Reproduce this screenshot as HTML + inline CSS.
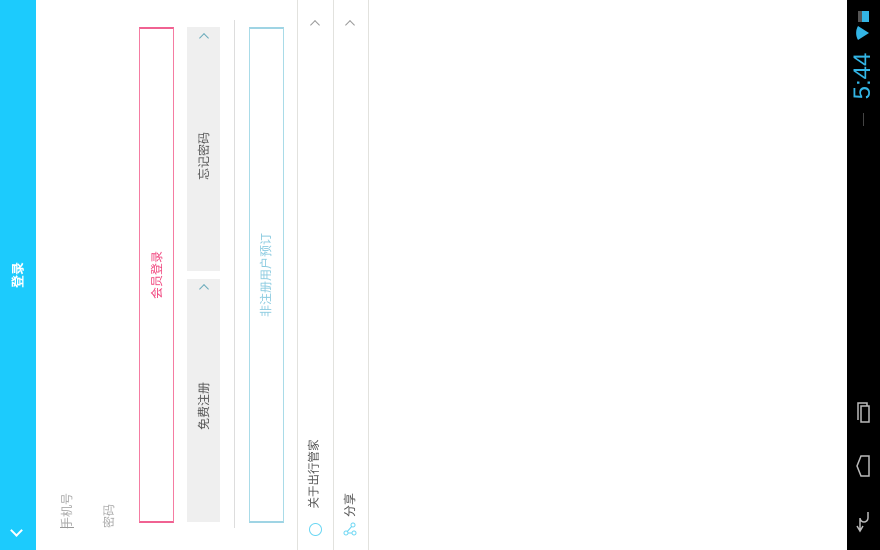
<!DOCTYPE html>
<html><head><meta charset="utf-8"><style>
*{margin:0;padding:0;box-sizing:border-box}
body{width:880px;height:550px;overflow:hidden;background:#fff;position:relative;font-family:"Liberation Sans","Noto Sans CJK SC",sans-serif}
div{position:absolute}
.t{white-space:nowrap;transform:translate(-50%,-50%) rotate(-90deg);line-height:1}
.chev{width:7px;height:7px;border-left:1.5px solid #999;border-top:1.5px solid #999;transform:translate(-50%,-50%) rotate(45deg)}
</style></head><body>
<div style="left:0;top:0;width:36px;height:550px;background:#1ccbfd"></div>
<div class="t" style="left:18px;top:275px;color:#fff;font-size:13px;font-weight:bold">登录</div>
<div style="left:12px;top:526px;width:9px;height:9px;border-right:2px solid #fff;border-bottom:2px solid #fff;transform:rotate(45deg)"></div>

<div class="t" style="left:67px;top:511px;color:#aaa;font-size:12px">手机号</div>
<div style="left:60px;top:527px;width:14px;height:1px;background:#999"></div>
<div class="t" style="left:109px;top:516px;color:#aaa;font-size:12px">密码</div>

<div style="left:139px;top:27px;width:35px;height:496px;border:1px solid #f57ca2;border-top:2px solid #f06292;border-bottom:2px solid #f06292"></div>
<div class="t" style="left:157px;top:275px;color:#f0457e;font-size:12px">会员登录</div>

<div style="left:187px;top:27px;width:33px;height:244px;background:#efefef"></div>
<div style="left:187px;top:279px;width:33px;height:243px;background:#efefef"></div>
<div class="chev" style="left:204px;top:38px;border-color:#6aaabb"></div>
<div class="chev" style="left:204px;top:289px;border-color:#6aaabb"></div>
<div class="t" style="left:204px;top:156px;color:#555;font-size:12px">忘记密码</div>
<div class="t" style="left:204px;top:406px;color:#555;font-size:12px">免费注册</div>

<div style="left:234px;top:20px;width:1px;height:508px;background:#ddd"></div>

<div style="left:249px;top:27px;width:35px;height:496px;border:1px solid #a9dbe8;border-top:2px solid #9fd4e4;border-bottom:2px solid #9fd4e4"></div>
<div class="t" style="left:266px;top:275px;color:#8ccbe0;font-size:12px">非注册用户预订</div>

<div style="left:297px;top:0;width:1px;height:550px;background:#e2e2de"></div>
<div style="left:333px;top:0;width:1px;height:550px;background:#e2e2de"></div>
<div style="left:368px;top:0;width:1px;height:550px;background:#e2e2de"></div>
<div class="chev" style="left:315px;top:25px"></div>
<div class="chev" style="left:350px;top:25px"></div>
<div class="t" style="left:315px;top:474px;color:#555;font-size:11.5px">关于出行管家</div>
<div style="left:309px;top:523px;width:13px;height:13px;border:1px solid #6ad6f3;border-radius:50%"></div>
<div class="t" style="left:350px;top:505px;color:#555;font-size:12px">分享</div>
<svg style="position:absolute;left:343px;top:522px" width="14" height="14"><g stroke="#6ad6f3" fill="#fff" stroke-width="1"><line x1="3" y1="11" x2="10" y2="3"/><line x1="3" y1="11" x2="11" y2="11"/><circle cx="3" cy="11" r="2"/><circle cx="10" cy="3" r="2"/><circle cx="11" cy="11" r="2"/></g></svg>

<div style="left:847px;top:0;width:33px;height:550px;background:#000"></div>
<div style="left:858px;top:11px;width:11px;height:11px;background:#555"></div>
<div style="left:862px;top:11px;width:7px;height:11px;background:#33b5e5"></div>
<svg style="position:absolute;left:855px;top:24px" width="16" height="18"><path d="M14 9 L3 2 A14 14 0 0 0 3 16 Z" fill="#33b5e5"/></svg>
<div class="t" style="left:863px;top:76px;color:#33b5e5;font-size:24px">5:44</div>
<div style="left:863px;top:113px;width:1px;height:13px;background:#444"></div>
<svg style="position:absolute;left:852px;top:398px" width="24" height="140" fill="none" stroke="#bbb" stroke-width="1.5">
<rect x="9" y="8" width="8" height="16"/><path d="M6 22 V5 H15 V8"/>
<path d="M17 58 H9 L5 68 L9 78 H17 Z"/>
<path d="M16 114 V120 A4 4 0 0 1 8 120 V132 M5 128 L8 133 L11 128"/>
</svg>
</body></html>
